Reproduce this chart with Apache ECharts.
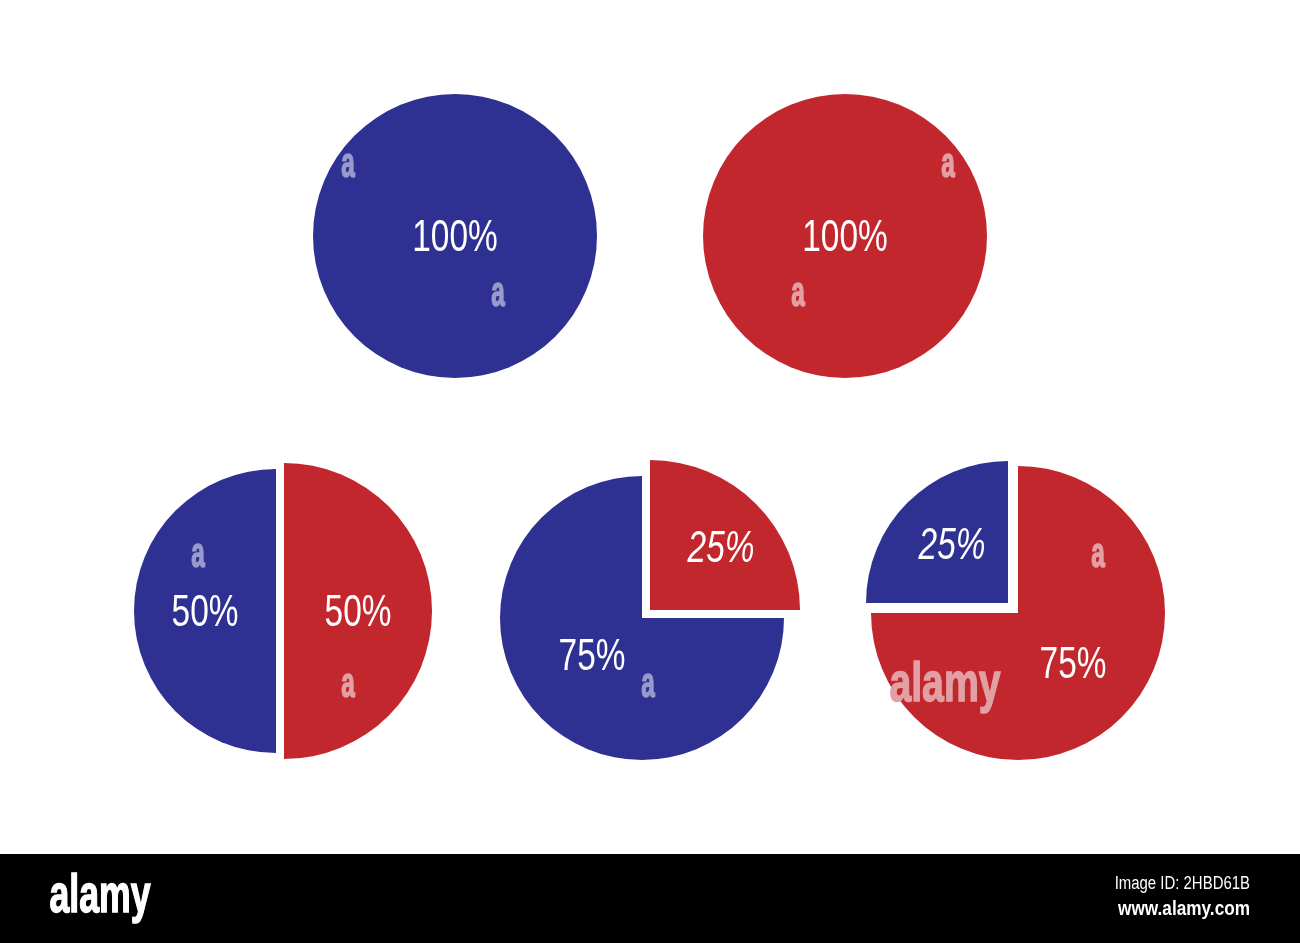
<!DOCTYPE html>
<html><head><meta charset="utf-8">
<style>html,body{margin:0;padding:0;background:#fff}#c{width:1300px;height:943px}</style>
<script src="https://cdn.jsdelivr.net/npm/echarts@6/dist/echarts.min.js"></script>
</head><body><div id="c"></div>
<script>
const BLUE = '#2e3192', RED = '#c1272d', BLUE_MARK = '#979ACB', RED_MARK = '#E3A0A4';
// share of each visible slice (percent), in drawing order
const sliceShares = [100, 100, 50, 50, 75, 25, 75, 25];
const sliceNames  = ['Blue 100', 'Red 100', 'Blue 50', 'Red 50', 'Blue 75', 'Red 25', 'Red 75', 'Blue 25'];
const sliceColors = [BLUE, RED, BLUE, RED, BLUE, RED, RED, BLUE];
// does the visible slice come after the blank part, going clockwise from 12 o'clock?
const blankFirst  = [false, false, true, false, true, false, false, true];
const sliceCenters = [[455,236],[845,236],[276,611],[284,611],[642,618],[650,610],[1018,613],[1008,603]];
const sliceRadii   = [142, 142, 142, 148, 142, 150, 147, 142];
const labelPos = [[455,236],[845,236],[205,611],[358,611],[592,655],[721,547],[1073,663],[952,544]];
const labelItalic = [false,false,false,false,false,true,false,true];
const markPos = [[348,164],[498,293],[948,164],[798,293],[198,554],[348,684],[648,684],[1098,554]];
const markColors = [BLUE_MARK,BLUE_MARK,RED_MARK,RED_MARK,BLUE_MARK,RED_MARK,BLUE_MARK,RED_MARK];

const series = sliceShares.map((v, i) => {
  const shown = {name: sliceNames[i], value: v, itemStyle: {color: sliceColors[i]}};
  const blank = {name: 'rest', value: 100 - v, itemStyle: {color: 'transparent'}};
  return {
    type: 'pie', silent: true, animation: false, startAngle: 90, clockwise: true,
    center: sliceCenters[i], radius: [0, sliceRadii[i]],
    label: {show: false}, labelLine: {show: false},
    data: blankFirst[i] ? [blank, shown] : [shown, blank]
  };
});
const SANS = '"Liberation Sans",sans-serif';
const txt = (s, x, y, o) => ({type: 'text', x, y, z: o.z || 10, scaleX: o.sx || 1, silent: true,
  style: {text: s, fill: o.fill || '#fff', align: o.align || 'center', verticalAlign: 'middle',
    stroke: o.sw ? (o.fill || '#fff') : null, lineWidth: o.sw || 0,
    fontFamily: SANS, fontSize: o.size, fontWeight: o.w || 'normal', fontStyle: o.style || 'normal'}});
const graphic = [
  {type:'rect', shape:{x:0,y:854,width:1300,height:89}, style:{fill:'#000'}, silent:true, z:5},
  ...sliceShares.map((v,i)=>txt(v+'%', labelPos[i][0], labelPos[i][1]+3, {size:44, sx:0.76, style: labelItalic[i]?'italic':'normal'})),
  ...markPos.map((p,i)=>txt('a', p[0], p[1]+1, {size:42, sx:0.58, w:'bold', fill: markColors[i], sw:1.5})),
  txt('alamy', 945, 686, {size:56, sx:0.7, w:'bold', fill: RED_MARK, sw:1.5}),
  txt('alamy', 100, 897, {size:54, sx:0.66, w:'bold', sw:1.5}),
  txt('Image ID: 2HBD61B', 1250, 884, {size:18, sx:0.83, align:'right'}),
  txt('www.alamy.com', 1250, 909, {size:20, sx:0.86, w:'bold', align:'right'})
];
const chart = echarts.init(document.getElementById('c'), null, {renderer:'canvas'});
chart.setOption({backgroundColor:'#fff', animation:false, series, graphic});
</script></body></html>
